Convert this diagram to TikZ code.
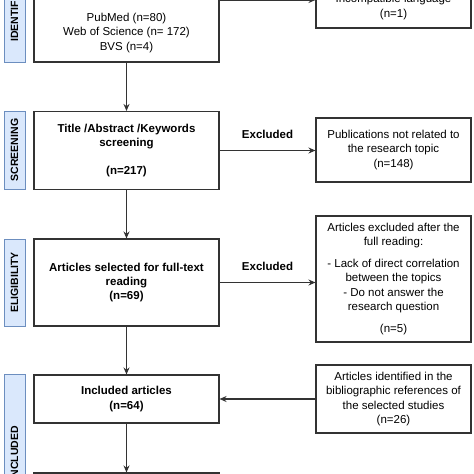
\documentclass[tikz,border=0pt]{standalone}
\usepackage{fontspec}
\setmainfont{Liberation Sans}
\usetikzlibrary{arrows.meta}
\definecolor{lc}{HTML}{333333}
\definecolor{bfill}{HTML}{DAE8FC}
\definecolor{bdraw}{HTML}{6C8EBF}
\begin{document}
\begin{tikzpicture}[x=1pt,y=-1pt,
  box/.style={draw=lc, line width=1.1pt, fill=white, align=center, inner sep=0pt,
              font=\fontsize{11.5}{14.3}\selectfont},
  mainbox/.style={box, minimum width=185pt, font=\bfseries\fontsize{11.5}{14.3}\selectfont},
  rbox/.style={box, minimum width=155pt},
  phase/.style={draw=bdraw, fill=bfill, line width=0.8pt, rotate=90, minimum height=21pt,
                inner sep=0pt, font=\bfseries\fontsize{10.5}{12}\selectfont},
  plain/.style={align=center, inner sep=0pt, font=\fontsize{11.5}{14.3}\selectfont},
  arr/.style={draw=lc, line width=1.1pt, -{Stealth[length=7pt,width=6pt]}},
  exlabel/.style={midway, above=11pt, inner sep=0pt, font=\bfseries\fontsize{11.5}{14}\selectfont}
]
\useasboundingbox (0,0) rectangle (474,474);
\clip (0,0) rectangle (474,474);
\fill[white] (0,0) rectangle (474,474);

% phase labels
\node[phase, minimum width=124pt] (pI) at (14.5,0) {IDENTIFICATION};
\node[phase, minimum width=78pt] (pS) at (14.5,150) {SCREENING};
\node[phase, minimum width=87pt] (pE) at (14.5,282.5) {ELIGIBILITY};
\node[phase, minimum width=158pt] (pN) at (14.5,453) {INCLUDED};

% main boxes
\node[mainbox, minimum height=124pt] (B1) at (126.5,0) {};
\node[plain] (T1) at (126.5,33) {PubMed (n=80)\\Web of Science (n= 172)\\BVS (n=4)};
\node[mainbox, minimum height=78pt] (B2) at (126.5,150.5)
  {Title /Abstract /Keywords\\screening\\[14.3pt](n=217)};
\node[mainbox, minimum height=87pt] (B3) at (126.5,282.5)
  {Articles selected for full-text\\reading\\(n=69)};
\node[mainbox, minimum height=48pt] (B4) at (126.5,399)
  {Included articles\\(n=64)};
\node[mainbox, minimum height=60pt] (B5) at (126.5,503) {};

% right boxes
\node[rbox, minimum height=42pt] (R1) at (393.5,7) {Incompatible language\\(n=1)};
\node[rbox, minimum height=64pt] (R2) at (393.5,150)
  {Publications not related to\\the research topic\\(n=148)};
\node[rbox, minimum height=126pt] (R3) at (393.5,279)
  {Articles excluded after the\\full reading:\\[8pt]- Lack of direct correlation\\between the topics\\- Do not answer the\\research question\\[8pt](n=5)};
\node[rbox, minimum height=68pt] (R4) at (393.5,399)
  {Articles identified in the\\bibliographic references of\\the selected studies\\(n=26)};

% vertical arrows
\draw[arr] (B1.south) -- (B2.north);
\draw[arr] (B2.south) -- (B3.north);
\draw[arr] (B3.south) -- (B4.north);
\draw[arr] (B4.south) -- (B5.north);

% horizontal arrows
\draw[arr] (B1.east) -- (B1.east -| R1.west);
\draw[arr] (B2.east) -- (B2.east -| R2.west) node[exlabel] (L2) {Excluded};
\draw[arr] (B3.east) -- (B3.east -| R3.west) node[exlabel] (L3) {Excluded};
\draw[arr] (R4.west) -- (R4.west -| B4.east);
\end{tikzpicture}
\end{document}
